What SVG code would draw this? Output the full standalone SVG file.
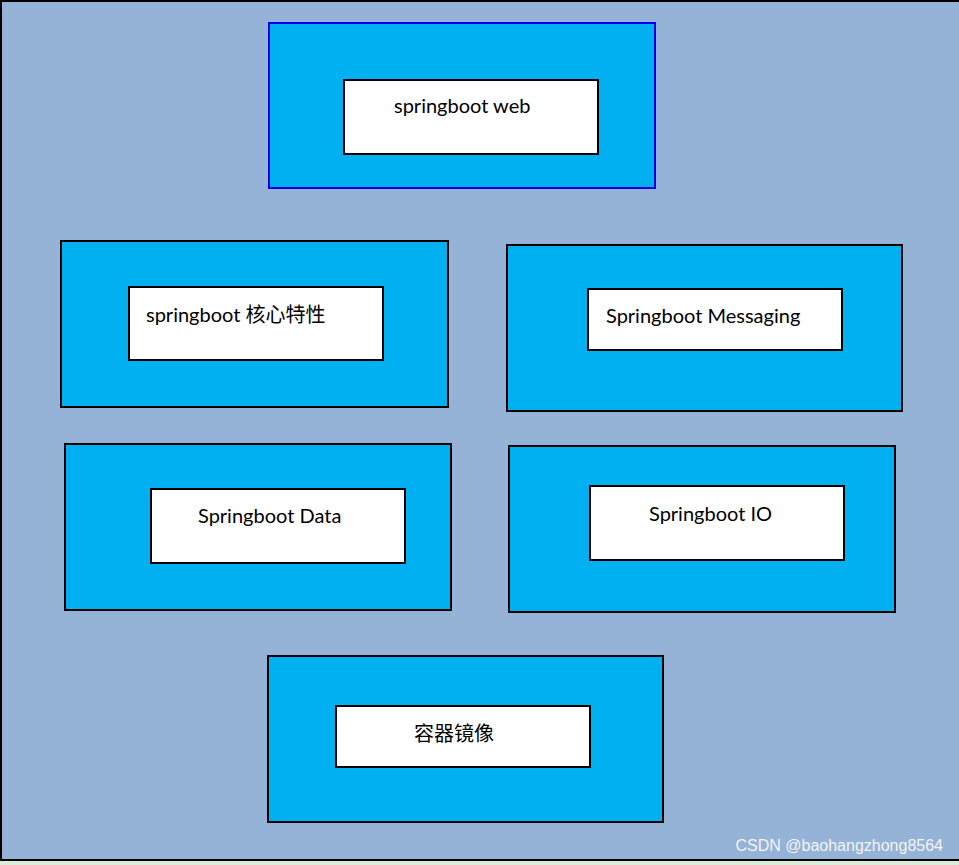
<svg xmlns="http://www.w3.org/2000/svg" width="959" height="865" viewBox="0 0 959 865">
<style>
.o{fill:#00B0F0;stroke:#000;stroke-width:2}
.i{fill:#fff;stroke:#000;stroke-width:2}
.t{font-family:Lato,"Noto Sans CJK SC",sans-serif;font-size:20px;fill:#000}
.w{fill:none;stroke:#e00;stroke-width:1}
</style>
<rect x="0" y="0" width="959" height="865" fill="#D8EED8"/>
<rect x="1" y="1" width="960" height="859" fill="#95B3D7" stroke="#000" stroke-width="2"/>
<g id="web"><rect class="o" x="269" y="23" width="386" height="165" style="stroke:#0000EE"/><rect class="i" x="344" y="80" width="254" height="74"/><text class="t" x="394" y="113">springboot web</text></g>
<g id="core"><rect class="o" x="61" y="241" width="387" height="166"/><rect class="i" x="129" y="287" width="254" height="73"/><text class="t" x="146" y="322">springboot 核心特性</text></g>
<g id="msg"><rect class="o" x="507" y="245" width="395" height="166"/><rect class="i" x="588" y="289" width="254" height="61"/><text class="t" x="606" y="323">Springboot Messaging</text></g>
<g id="data"><rect class="o" x="65" y="444" width="386" height="166"/><rect class="i" x="151" y="489" width="254" height="74"/><text class="t" x="198" y="523">Springboot Data</text></g>
<g id="io"><rect class="o" x="509" y="446" width="386" height="166"/><rect class="i" x="590" y="486" width="254" height="74"/><text class="t" x="649" y="521">Springboot IO</text></g>
<g id="container"><rect class="o" x="268" y="656" width="395" height="166"/><rect class="i" x="336" y="706" width="254" height="61"/><text class="t" x="414" y="741">容器镜像</text></g>
<g id="connectors"/>
<text x="943" y="851" text-anchor="end" style="font-family:'Liberation Sans',sans-serif;font-size:16px;fill:#f4f4f4">CSDN @baohangzhong8564</text>
</svg>
